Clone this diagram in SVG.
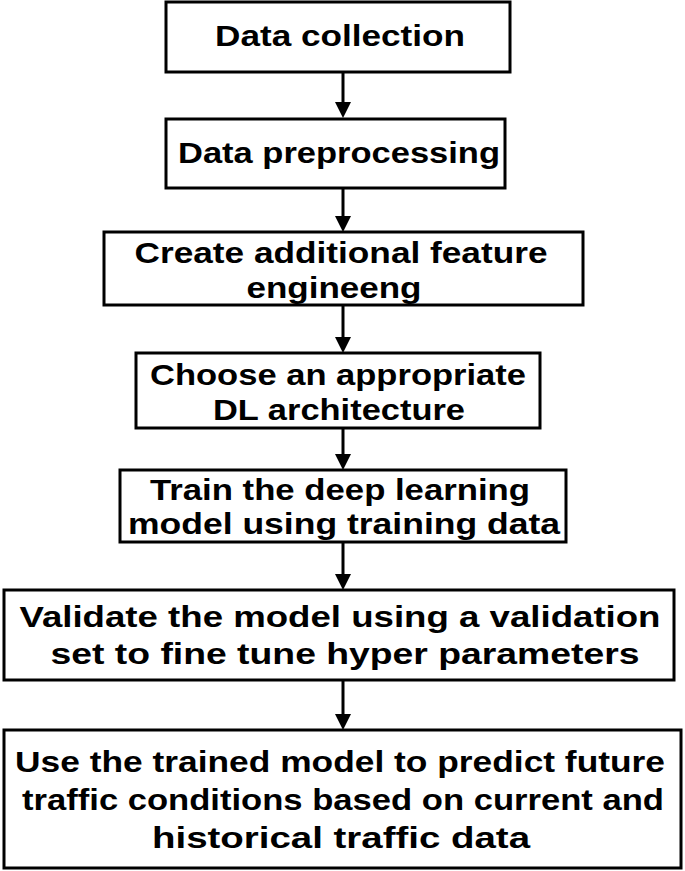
<svg xmlns="http://www.w3.org/2000/svg" width="685" height="871" viewBox="0 0 685 871">
<style>
.b{fill:#fff;stroke:#000;stroke-width:3}
.t{font-family:"Liberation Sans",Arial,sans-serif;font-weight:bold;font-size:30px;text-anchor:middle;fill:#000}
.l{stroke:#000;stroke-width:3}
</style>
<rect width="685" height="871" fill="#fff"/>
<g id="connectors">
<line class="l" x1="343" y1="72" x2="343" y2="106"/><path d="M335,102 L343,118 L351,102 Z"/>
<line class="l" x1="343" y1="188" x2="343" y2="220"/><path d="M335,216 L343,232 L351,216 Z"/>
<line class="l" x1="343" y1="305" x2="343" y2="340"/><path d="M335,337 L343,353 L351,337 Z"/>
<line class="l" x1="343" y1="428" x2="343" y2="458"/><path d="M335,454 L343,470 L351,454 Z"/>
<line class="l" x1="343" y1="542" x2="343" y2="578"/><path d="M335,574 L343,590 L351,574 Z"/>
<line class="l" x1="343" y1="680" x2="343" y2="718"/><path d="M335,714 L343,730 L351,714 Z"/>
</g>
<g id="n1"><rect class="b" x="166" y="2" width="344" height="70"/><text class="t" x="340" y="46" textLength="250" lengthAdjust="spacingAndGlyphs">Data collection</text></g>
<g id="n2"><rect class="b" x="166" y="119" width="339" height="69"/><text class="t" x="339" y="163" textLength="322" lengthAdjust="spacingAndGlyphs">Data preprocessing</text></g>
<g id="n3"><rect class="b" x="104" y="232" width="479" height="73"/><text class="t" x="341" y="263" textLength="413" lengthAdjust="spacingAndGlyphs">Create additional feature</text><text class="t" x="334" y="298" textLength="175" lengthAdjust="spacingAndGlyphs">engineeng</text></g>
<g id="n4"><rect class="b" x="136" y="353" width="404" height="75"/><text class="t" x="338" y="385" textLength="376" lengthAdjust="spacingAndGlyphs">Choose an appropriate</text><text class="t" x="339" y="420" textLength="252" lengthAdjust="spacingAndGlyphs">DL architecture</text></g>
<g id="n5"><rect class="b" x="120" y="470" width="446" height="72"/><text class="t" x="340" y="500" textLength="380" lengthAdjust="spacingAndGlyphs">Train the deep learning</text><text class="t" x="344" y="534" textLength="432" lengthAdjust="spacingAndGlyphs">model using training data</text></g>
<g id="n6"><rect class="b" x="4" y="590" width="670" height="90"/><text class="t" x="340" y="627" textLength="641" lengthAdjust="spacingAndGlyphs">Validate the model using a validation</text><text class="t" x="345" y="664" textLength="589" lengthAdjust="spacingAndGlyphs">set to fine tune hyper parameters</text></g>
<g id="n7"><rect class="b" x="4" y="730" width="677" height="138"/><text class="t" x="340" y="772" textLength="650" lengthAdjust="spacingAndGlyphs">Use the trained model to predict future</text><text class="t" x="343" y="810" textLength="642" lengthAdjust="spacingAndGlyphs">traffic conditions based on current and</text><text class="t" x="341" y="848" textLength="378" lengthAdjust="spacingAndGlyphs">historical traffic data</text></g>
</svg>
